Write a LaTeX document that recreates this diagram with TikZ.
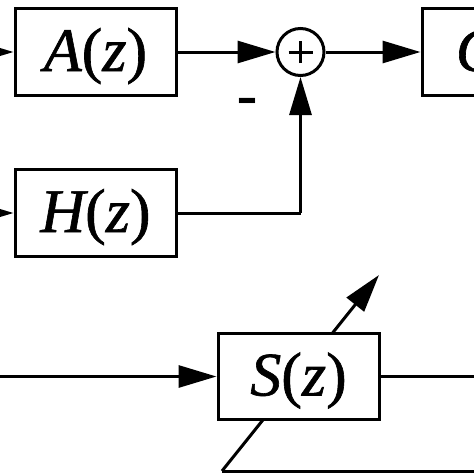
\documentclass[tikz,border=0pt]{standalone}
\usepackage{fontspec}
\setmainfont{Liberation Serif}[UprightFeatures={FakeBold=1},ItalicFeatures={FakeBold=1}]
\newfontfamily\signfont{Liberation Sans}
\usetikzlibrary{arrows.meta}
\tikzset{
  blk/.style={draw=black,line width=3pt,fill=white,minimum width=161pt,minimum height=87pt,inner sep=0pt,
    text height=47pt,text depth=9pt,font=\fontsize{62}{62}\selectfont},
  sumc/.style={draw=black,line width=3pt,fill=white,circle,minimum size=47pt,inner sep=0pt},
  conn/.style={line width=3pt,-{Triangle[length=38pt,width=22pt]}},
  plain/.style={line width=3pt},
}
\newcommand{\tf}[1]{\itshape #1\upshape(\itshape z\upshape)}
\begin{document}
\begin{tikzpicture}[x=1pt,y=-1pt]
\useasboundingbox (0,0) rectangle (474,474);
\clip (0,0) rectangle (474,474);
% blocks
\node[blk] (A) at (95.5,52) {\tf{A}};
\node[blk] (H) at (95.5,213) {\tf{H}};
\node[sumc] (sum) at (300.5,52) {};
\node[blk,minimum width=178pt] (G) at (511,52) {\tf{G}};
\coordinate (ain) at (-30,52);
\coordinate (hin) at (-30,213);
\coordinate (hcorner) at (300.5,213);
% plus
\draw[plain] ([xshift=-12pt]sum.center) -- ([xshift=12pt]sum.center);
\draw[plain] ([yshift=-11pt]sum.center) -- ([yshift=11pt]sum.center);
% connectors
\draw[conn] (ain) -- (A.west);
\draw[conn] (hin) -- (H.west);
\draw[conn] (A.east) -- (sum.west);
\draw[conn] (sum.east) -- (G.west);
\draw[plain] (H.east) -- (hcorner);
\draw[conn] (hcorner) -- (sum.south);
\node[font=\signfont\fontsize{66}{66}\selectfont,inner sep=0pt,anchor=base] (minus) at (247,118) {-};
% S(z) part
\coordinate (dstart) at (222,471);
\coordinate (dtip) at (379,275);
\coordinate (bend) at (490,471);
\coordinate (sin) at (-10,376.5);
\coordinate (sout) at (490,376.5);
\draw[conn] (dstart) -- (dtip);
\draw[plain] (dstart) -- (bend);
\node[blk,minimum height=86pt] (S) at (298.5,376.5) {\tf{S}};
\draw[conn] (sin) -- (S.west);
\draw[plain] (S.east) -- (sout);
\end{tikzpicture}
\end{document}
